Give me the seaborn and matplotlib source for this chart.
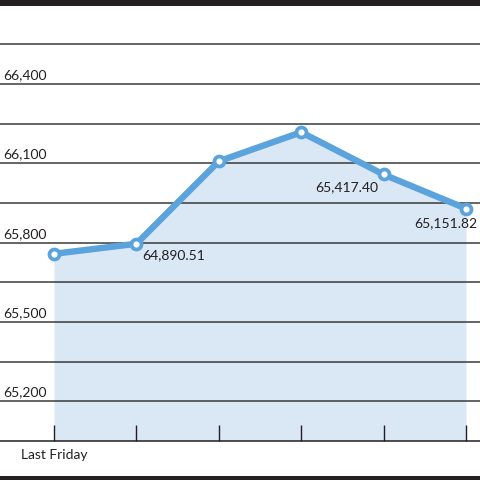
import matplotlib
matplotlib.use("Agg")
import matplotlib.pyplot as plt
import matplotlib.transforms as mtransforms
import seaborn as sns
import pandas as pd

# data (positions follow the printed y axis)
days = [0, 1, 2, 3, 4, 5]
day_labels = ["Last Friday", "", "", "", "", ""]
index_values = [65758, 65796, 66108, 66218, 66058, 65929]
point_notes = ["", "64,890.51", "", "", "65,417.40", "65,151.82"]
grid_values = [65200, 65350, 65500, 65650, 65800, 65950, 66100, 66250, 66400, 66550]
label_values = [65200, 65500, 65800, 66100, 66400]
label_texts = ["65,200", "65,500", "65,800", "66,100", "66,400"]

LINE = "#5aa3dc"
FILL = "#dae7f5"
INK = "#231f20"
BASE = 65050

sns.set_style("white")
plt.rcParams["font.family"] = ["Lato", "DejaVu Sans"]

fig = plt.figure(figsize=(4.8, 4.8), dpi=100)
ax = fig.add_axes([0, 39 / 480, 1, 441 / 480])

df = pd.DataFrame({"day": days, "value": index_values})

ax.fill_between(df["day"], df["value"], BASE, color=FILL, lw=0, zorder=1)
for v in grid_values:
    ax.axhline(v, color="#3a3a3a", lw=1.1, zorder=2)
sns.lineplot(data=df, x="day", y="value", ax=ax, color=LINE, lw=4.6,
             marker="o", markersize=7.2, markerfacecolor="white",
             markeredgecolor=LINE, markeredgewidth=2.7, zorder=3)

ax.set_xlim(-54 / 82.4, 426 / 82.4)
ax.set_ylim(BASE, 66718)

# y labels sit just above their gridlines, inside the plot
blend = mtransforms.blended_transform_factory(ax.transAxes, ax.transData)
for v, t in zip(label_values, label_texts):
    ax.annotate(t, xy=(0, v), xycoords=blend, xytext=(2, 3.5),
                textcoords="offset points", va="baseline", ha="left",
                fontsize=10, color=INK)

# point notes
offsets = {1: ((4, -4), "left"), 4: ((-4, -5), "right"), 5: ((8, -6), "right")}
for i, note in enumerate(point_notes):
    if note:
        off, ha = offsets[i]
        ax.annotate(note, xy=(days[i], index_values[i]), xytext=off,
                    textcoords="offset points", ha=ha, va="top",
                    fontsize=10, color=INK, zorder=4)

for s in ["top", "left", "right"]:
    ax.spines[s].set_visible(False)
ax.spines["bottom"].set_color(INK)
ax.spines["bottom"].set_linewidth(1.1)
ax.spines["bottom"].set_zorder(5)
ax.set_yticks([])
ax.set_xticks(days)
ax.set_xticklabels(day_labels, fontsize=10, color=INK)
ax.tick_params(axis="x", direction="in", length=11.5, width=1.0,
               color=INK, pad=6, bottom=True)
ax.xaxis.set_zorder(5)
ax.set_xlabel("")
ax.set_ylabel("")

# heavy rules at top and bottom
fig.add_artist(plt.Rectangle((0, 1 - 5.5 / 480), 1, 5.5 / 480,
                             transform=fig.transFigure, color=INK, lw=0))
fig.add_artist(plt.Rectangle((0, 0), 1, 4.5 / 480,
                             transform=fig.transFigure, color=INK, lw=0))

fig.savefig("out.png", dpi=100)
